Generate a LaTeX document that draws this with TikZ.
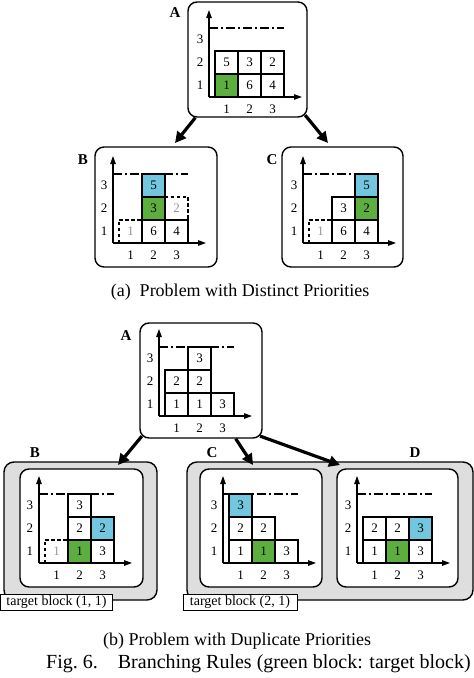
\documentclass[tikz,border=0pt]{standalone}
\usepackage{fontspec}
\setmainfont{Liberation Serif}
\usetikzlibrary{arrows.meta}
\definecolor{tgreen}{RGB}{92,174,62}
\definecolor{tcyan}{RGB}{114,198,222}
\definecolor{pgray}{RGB}{222,222,222}
\definecolor{ghostgray}{RGB}{150,150,150}
\tikzset{
  x=1pt, y=-1pt,
  cellbox/.style={draw, line width=1.3pt, minimum width=23pt, minimum height=23pt, inner sep=0pt, font=\fontsize{13}{13}\selectfont},
  ghostcell/.style={minimum width=23pt, minimum height=23pt, inner sep=0pt, text=ghostgray, font=\fontsize{13}{13}\selectfont},
  gfill/.style={fill=tgreen},
  cfill/.style={fill=tcyan},
  axisline/.style={line width=1.2pt, -{Triangle[length=8pt,width=5.5pt]}},
  dashdot/.style={line width=1.4pt, dash pattern=on 9pt off 3pt on 2pt off 3pt},
  dashedge/.style={line width=1.5pt, dash pattern=on 3.5pt off 2.5pt},
  panelbox/.style={draw, line width=1.4pt, rounded corners=9pt, fill=white, inner sep=0pt},
  graybox/.style={draw, line width=1.4pt, rounded corners=10pt, fill=pgray, inner sep=0pt},
  branch/.style={line width=3.2pt, -{Triangle[length=11pt,width=11pt]}},
  plabel/.style={font=\fontsize{15}{15}\selectfont\bfseries, inner sep=0pt},
  axlabel/.style={font=\fontsize{13}{13}\selectfont, inner sep=0pt},
  tlabel/.style={draw, line width=0.8pt, fill=white, inner sep=0pt, minimum height=16pt, font=\fontsize{14}{14}\selectfont},
  captext/.style={anchor=base, inner sep=0pt, font=\fontsize{18}{18}\selectfont},
}
% cell: [style]{name}{col}{row}{text}
\newcommand\cel[5][]{\node[cellbox,#1] (#2) at ({23*#3-5.5},{-23*#4+11.5}) {#5};}
\newcommand\ghost[4]{\node[ghostcell] (#1) at ({23*#2-5.5},{-23*#3+11.5}) {#4};}
% axes with labels: {prefix}
\newcommand\axes[1]{%
  \coordinate (#1o) at (0,0);
  \coordinate (#1y) at (0,-87);
  \coordinate (#1x) at (93,0);
  \coordinate (#1d0) at (0,-69);
  \coordinate (#1d1) at (75,-69);
  \draw[dashdot] (#1d0) -- (#1d1);
  \node[axlabel] (#1r1) at (-9,-11.5) {1};
  \node[axlabel] (#1r2) at (-9,-34.5) {2};
  \node[axlabel] (#1r3) at (-9,-57.5) {3};
  \node[axlabel] (#1c1) at (17.5,12) {1};
  \node[axlabel] (#1c2) at (40.5,12) {2};
  \node[axlabel] (#1c3) at (63.5,12) {3};
}
\newcommand\axarrows[1]{%
  \draw[axisline] (#1o) -- (#1y);
  \draw[axisline] (#1o) -- (#1x);
}
\begin{document}
\begin{tikzpicture}
\useasboundingbox (0,0) rectangle (474,678);

% ---------------- (a) ----------------
\node[panelbox, minimum width=119pt, minimum height=115pt] (Aa) at (247.5,59.5) {};
\node[plabel] (Aalab) at (175,13) {A};
\begin{scope}[shift={(209,97)}]
  \axes{Aa}
  \cel[gfill]{Aa11}{1}{1}{1}
  \cel{Aa21}{2}{1}{6}
  \cel{Aa31}{3}{1}{4}
  \cel{Aa12}{1}{2}{5}
  \cel{Aa22}{2}{2}{3}
  \cel{Aa32}{3}{2}{2}
  \axarrows{Aa}
\end{scope}

\node[panelbox, minimum width=122pt, minimum height=120pt] (Ba) at (156,207) {};
\node[plabel] (Balab) at (83,160) {B};
\begin{scope}[shift={(113,243)}]
  \axes{Ba}
  \ghost{Ba11}{1}{1}{1}
  \draw[dashedge] (Ba11.south west) -- (Ba11.north west) -- (Ba11.north east);
  \ghost{Ba32}{3}{2}{2}
  \draw[dashedge] (Ba32.north west) -- (Ba32.north east) -- (Ba32.south east);
  \cel{Ba21}{2}{1}{6}
  \cel{Ba31}{3}{1}{4}
  \cel[gfill]{Ba22}{2}{2}{3}
  \cel[cfill]{Ba23}{2}{3}{5}
  \axarrows{Ba}
\end{scope}

\node[panelbox, minimum width=121pt, minimum height=120pt] (Ca) at (342.5,207) {};
\node[plabel] (Calab) at (272,160) {C};
\begin{scope}[shift={(303,243)}]
  \axes{Ca}
  \ghost{Ca11}{1}{1}{1}
  \draw[dashedge] (Ca11.south west) -- (Ca11.north west) -- (Ca11.north east);
  \cel{Ca21}{2}{1}{6}
  \cel{Ca31}{3}{1}{4}
  \cel{Ca22}{2}{2}{3}
  \cel[gfill]{Ca32}{3}{2}{2}
  \cel[cfill]{Ca33}{3}{3}{5}
  \axarrows{Ca}
\end{scope}

\coordinate (tBa) at (175,143);
\coordinate (tCa) at (328,143);
\draw[branch] ([xshift=8pt]Aa.south west) -- (tBa);
\draw[branch] ([xshift=-2.6pt,yshift=2.6pt]Aa.south east) -- (tCa);

\node[captext] (capa) at (240,296) {(a)\ \ Problem with Distinct Priorities};

% ---------------- (b) ----------------
\node[panelbox, minimum width=122pt, minimum height=115pt] (Ab) at (201,380.5) {};
\node[plabel] (Ablab) at (126,336) {A};
\begin{scope}[shift={(159,416)}]
  \axes{Ab}
  \cel{Ab11}{1}{1}{1}
  \cel{Ab21}{2}{1}{1}
  \cel{Ab31}{3}{1}{3}
  \cel{Ab12}{1}{2}{2}
  \cel{Ab22}{2}{2}{2}
  \cel{Ab23}{2}{3}{3}
  \axarrows{Ab}
\end{scope}

\node[graybox, minimum width=153pt, minimum height=138pt] (GB) at (80.5,531) {};
\node[graybox, minimum width=286pt, minimum height=138pt] (GCD) at (330,531) {};

\node[panelbox, minimum width=123pt, minimum height=118pt] (Bb) at (81.5,528) {};
\node[plabel] (Bblab) at (35,453) {B};
\begin{scope}[shift={(39,563)}]
  \axes{Bb}
  \ghost{Bb11}{1}{1}{1}
  \draw[dashedge] (Bb11.south west) -- (Bb11.north west) -- (Bb11.north east);
  \cel[gfill]{Bb21}{2}{1}{1}
  \cel{Bb31}{3}{1}{3}
  \cel{Bb22}{2}{2}{2}
  \cel[cfill]{Bb32}{3}{2}{2}
  \cel{Bb23}{2}{3}{3}
  \axarrows{Bb}
\end{scope}

\node[panelbox, minimum width=122pt, minimum height=118pt] (Cb) at (261,528) {};
\node[plabel] (Cblab) at (212,453) {C};
\begin{scope}[shift={(223,563)}]
  \axes{Cb}
  \cel{Cb11}{1}{1}{1}
  \cel[gfill]{Cb21}{2}{1}{1}
  \cel{Cb31}{3}{1}{3}
  \cel{Cb12}{1}{2}{2}
  \cel{Cb22}{2}{2}{2}
  \cel[cfill]{Cb13}{1}{3}{3}
  \axarrows{Cb}
\end{scope}

\node[panelbox, minimum width=121pt, minimum height=118pt] (Db) at (397.5,528) {};
\node[plabel] (Dblab) at (415,453) {D};
\begin{scope}[shift={(357,563)}]
  \axes{Db}
  \cel{Db11}{1}{1}{1}
  \cel[gfill]{Db21}{2}{1}{1}
  \cel{Db31}{3}{1}{3}
  \cel{Db12}{1}{2}{2}
  \cel{Db22}{2}{2}{2}
  \cel[cfill]{Db32}{3}{2}{3}
  \axarrows{Db}
\end{scope}

\node[tlabel, minimum width=112pt] (TB1) at (56.5,602.5) {target block (1, 1)};
\node[tlabel, minimum width=114pt] (TB2) at (240,602.5) {target block (2, 1)};

\coordinate (tBb) at (118,465);
\coordinate (tCb) at (253,465);
\coordinate (tDb) at (340,465);
\draw[branch] ([xshift=2.6pt,yshift=2.6pt]Ab.south west) -- (tBb);
\draw[branch] ([xshift=-27pt]Ab.south east) -- (tCb);
\draw[branch] ([xshift=-2.6pt,yshift=2.6pt]Ab.south east) -- (tDb);

\node[captext] (capb) at (237,645) {(b) Problem with Duplicate Priorities};
\node[captext, anchor=base west, font=\fontsize{20}{20}\selectfont] (capfig) at (46,668) {Fig.~6.\quad Branching Rules (green block: target block)};
\end{tikzpicture}
\end{document}
